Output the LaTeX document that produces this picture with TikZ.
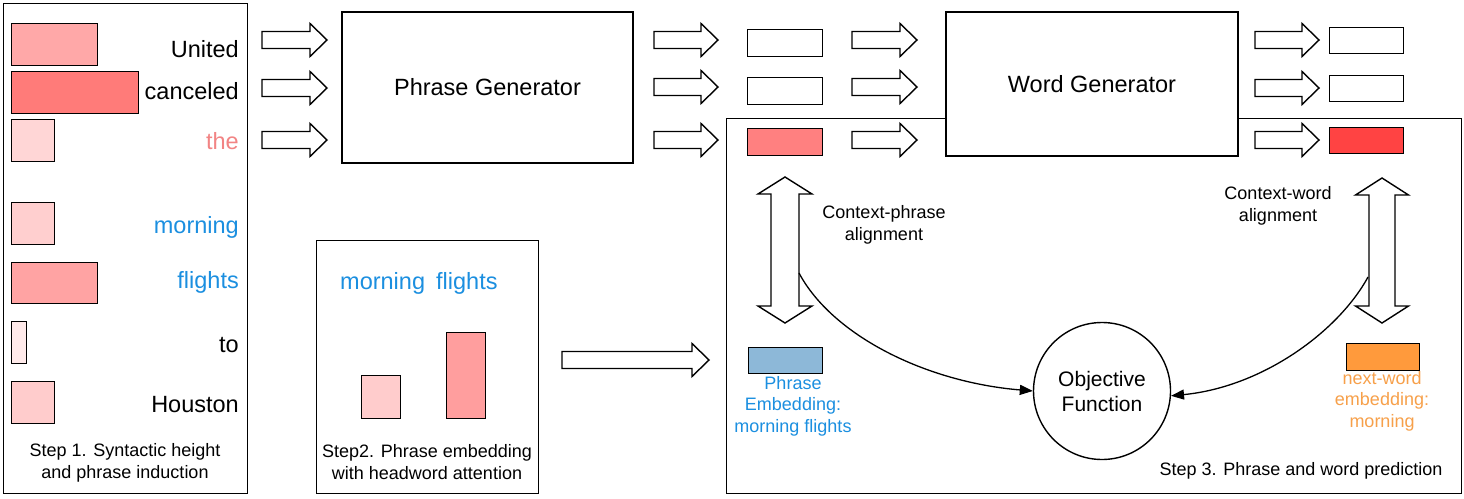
\documentclass[tikz,border=0pt]{standalone}
\usepackage{fontspec}
\setmainfont{Liberation Sans}
\usetikzlibrary{arrows.meta}
\definecolor{barA}{HTML}{FFA8A8}
\definecolor{barB}{HTML}{FF7B79}
\definecolor{barC}{HTML}{FFD6D6}
\definecolor{barD}{HTML}{FFCFCF}
\definecolor{barE}{HTML}{FFA3A3}
\definecolor{barF}{HTML}{FFEAEA}
\definecolor{barG}{HTML}{FFCCCC}
\definecolor{barH}{HTML}{FF9E9E}
\definecolor{redA}{HTML}{FF8080}
\definecolor{redB}{HTML}{FF4343}
\definecolor{blueBox}{HTML}{8DB8D8}
\definecolor{orangeBox}{HTML}{FF9A3C}
\definecolor{theText}{HTML}{F28484}
\definecolor{blueText}{HTML}{1B8FE0}
\definecolor{orangeText}{HTML}{F7A04A}
\tikzset{
  frame/.style={draw, line width=1.4pt, rectangle, inner sep=0pt},
  bar/.style={draw, line width=1.4pt, rectangle, inner sep=0pt, anchor=north west, minimum height=42pt},
  slot/.style={draw, line width=1.4pt, rectangle, inner sep=0pt, anchor=north west, minimum width=75pt, minimum height=27pt},
  big/.style={font=\fontsize{23.5}{28}\selectfont},
  small/.style={font=\fontsize{18}{21.5}\selectfont, align=center},
  barrow/.style={draw, line width=1.4pt, fill=white, line join=miter},
  link/.style={line width=1.3pt, -{Triangle[length=13pt,width=10pt]}},
}
\newcommand\harr[3]{\path[barrow] (#1,{#3-8.5}) -- ({#2-17},{#3-8.5}) -- ({#2-17},{#3-16.5}) -- (#2,#3) -- ({#2-17},{#3+16.5}) -- ({#2-17},{#3+8.5}) -- (#1,{#3+8.5}) -- cycle;}
\newcommand\varr[6]{\path[barrow] (#1,#2) -- ({#1+#4},{#2+#6}) -- ({#1+#5},{#2+#6}) -- ({#1+#5},{#3-#6}) -- ({#1+#4},{#3-#6}) -- (#1,#3) -- ({#1-#4},{#3-#6}) -- ({#1-#5},{#3-#6}) -- ({#1-#5},{#2+#6}) -- ({#1-#4},{#2+#6}) -- cycle;}
\begin{document}
\begin{tikzpicture}[x=1pt,y=-1pt]
\useasboundingbox (0,0) rectangle (1464,498);
\fill[white] (0,0) rectangle (1464,498);
% Step 1 panel
\node[frame, anchor=north west, minimum width=244pt, minimum height=490pt] (p1) at (3,3) {};
\node[bar, fill=barA, minimum width=86pt] (b1) at (11,23) {};
\node[bar, fill=barB, minimum width=127pt] (b2) at (11,71) {};
\node[bar, fill=barC, minimum width=43pt] (b3) at (11,119) {};
\node[bar, fill=barD, minimum width=43pt] (b4) at (11,202) {};
\node[bar, fill=barE, minimum width=86pt, minimum height=41pt] (b5) at (11,262) {};
\node[bar, fill=barF, minimum width=15pt] (b6) at (11,321) {};
\node[bar, fill=barG, minimum width=43pt] (b7) at (11,381) {};
\node[big, anchor=base east, inner sep=0pt] (w1) at (239,57) {United};
\node[big, anchor=base east, inner sep=0pt] (w2) at (239,99) {canceled};
\node[big, anchor=base east, inner sep=0pt, text=theText] (w3) at (239,149) {the};
\node[big, anchor=base east, inner sep=0pt, text=blueText] (w4) at (239,233) {morning};
\node[big, anchor=base east, inner sep=0pt, text=blueText] (w5) at (239,288) {flights};
\node[big, anchor=base east, inner sep=0pt] (w6) at (239,352) {to};
\node[big, anchor=base east, inner sep=0pt] (w7) at (239,412) {Houston};
\node[small] (cap1) at (125,463) {Step 1. Syntactic height\\and phrase induction};
% input arrows
\harr{262}{327}{40}
\harr{262}{327}{88}
\harr{262}{327}{140}
% Phrase generator
\node[frame, big, minimum width=291pt, minimum height=151pt] (pg) at (487.5,87.5) {Phrase Generator};
% Step 3 panel
\node[frame, anchor=north west, minimum width=735pt, minimum height=375pt] (p3) at (726,118) {};
% phrase slots
\harr{654}{718}{40}
\harr{654}{718}{87}
\harr{654}{718}{140}
\node[slot] (s1) at (747,29) {};
\node[slot] (s2) at (747,77) {};
\node[slot, fill=redA] (s3) at (747,128) {};
\harr{852}{917}{40}
\harr{852}{917}{87}
\harr{852}{917}{140}
% Word generator
\node[frame, big, fill=white, minimum width=292pt, minimum height=144pt] (wg) at (1092,84) {Word Generator};
\harr{1255}{1319}{40}
\harr{1255}{1319}{88}
\harr{1255}{1319}{140}
\node[slot, minimum width=74pt, minimum height=26pt] (t1) at (1329,27) {};
\node[slot, minimum width=74pt, minimum height=26pt] (t2) at (1329,75) {};
\node[slot, minimum width=74pt, minimum height=26pt, fill=redB] (t3) at (1329,127) {};
% alignment arrows
\varr{785}{177}{323}{27}{14}{17}
\varr{1382}{178}{323}{26.5}{13}{17}
\node[small] (cpl) at (884,225) {Context-phrase\\alignment};
\node[small] (cwl) at (1278,206) {Context-word\\alignment};
% embeddings
\node[slot, fill=blueBox, minimum width=74pt, minimum height=26pt] (pe) at (748,347) {};
\node[small, text=blueText] (pel) at (793,406) {Phrase\\Embedding:\\morning flights};
\node[slot, fill=orangeBox, minimum width=73pt, minimum height=27pt] (ne) at (1346,343) {};
\node[small, text=orangeText] (nel) at (1382,401) {next-word\\embedding:\\morning};
% objective
\node[draw, line width=1.4pt, circle, minimum size=137pt, inner sep=0pt, align=center, font=\fontsize{21}{25}\selectfont] (obj) at (1102,391) {Objective\\Function};
\coordinate (cL) at (799,273);
\coordinate (cR) at (1368,277);
\draw[link] (cL) .. controls (832,335) and (925,382) .. (obj.west);
\draw[link] (cR) .. controls (1338,332) and (1262,387) .. (obj.-4);
\node[small, anchor=east] (cap3) at (1446,471) {Step 3. Phrase and word prediction};
% Step 2 panel
\node[frame, anchor=north west, minimum width=222pt, minimum height=253pt] (p2) at (316,240) {};
\node[big, anchor=base west, inner sep=0pt, text=blueText] (m2) at (340,289) {morning};
\node[big, anchor=base west, inner sep=0pt, text=blueText] (f2) at (436,289) {flights};
\node[bar, fill=barG, minimum width=39pt, minimum height=43pt] (q1) at (361,375) {};
\node[bar, fill=barH, minimum width=39pt, minimum height=86pt] (q2) at (446,332) {};
\node[small] (cap2) at (427,462) {Step2. Phrase embedding\\with headword attention};
\harr{562}{709}{360}
\end{tikzpicture}
\end{document}
